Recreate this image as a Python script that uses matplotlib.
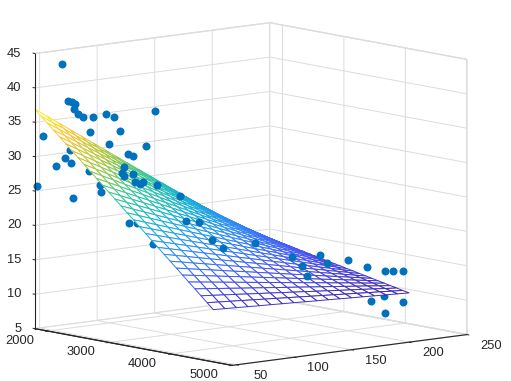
"""
Weight / horsepower / mpg scatter with a fitted mesh on top.
"""
import matplotlib
matplotlib.use('Agg')
import matplotlib.pyplot as plt
import numpy as np
from matplotlib.colors import LinearSegmentedColormap, Normalize
from mpl_toolkits.mplot3d import proj3d

x_ticks = [2000, 3000, 4000, 5000]
y_ticks = [50, 100, 150, 200, 250]
z_ticks = [5, 10, 15, 20, 25, 30, 35, 40, 45]

front_x = [2000, 2051, 2077, 2100, 2095, 2122, 2161, 2237, 2337, 2398, 2712, 2444, 2214, 1855, 2360, 2643, 2505, 2543, 2026, 2069, 1954, 2474, 2462, 2474, 2543, 2620, 2559, 2600, 2727, 1809, 2298, 2086, 2903, 2513, 2949, 3048, 3148, 3232, 3484, 3767, 3982, 3844, 4035, 4196, 4341, 3875, 4477, 4540, 4614, 4372, 4614, 4477]
front_y = [58.3, 61.4, 62.9, 64.3, 64.0, 65.6, 67.9, 72.5, 78.5, 82.2, 101.0, 84.9, 71.2, 49.6, 79.9, 96.9, 88.6, 90.9, 59.9, 62.4, 55.5, 86.8, 86.0, 86.8, 90.9, 95.5, 91.8, 94.3, 101.9, 46.8, 76.2, 63.4, 112.5, 89.1, 115.2, 121.2, 127.2, 132.2, 147.3, 164.3, 177.2, 168.9, 180.4, 190.0, 198.8, 170.8, 206.9, 210.7, 215.1, 200.6, 215.1, 206.9]
front_z = [43.57, 38.21, 38.07, 37.83, 37.06, 36.34, 35.92, 35.95, 36.42, 36.0, 36.99, 33.98, 33.76, 33.05, 32.06, 31.87, 30.66, 30.38, 29.91, 29.2, 28.72, 28.76, 27.88, 27.45, 27.76, 26.67, 26.61, 26.33, 26.27, 25.76, 25.1, 24.11, 24.69, 20.63, 21.07, 20.96, 18.38, 17.29, 18.07, 16.12, 16.53, 14.84, 15.34, 15.84, 14.87, 13.4, 14.34, 14.36, 14.38, 9.94, 9.88, 8.23]

# points that sit under the mesh and show only around its edges
under_x = [2064, 2207, 2296, 2684, 2709, 2574, 2699, 3344, 3406, 4467]
under_y = [62.2, 70.7, 76.1, 99.3, 100.9, 92.7, 100.3, 139, 142.6, 206.3]
under_z = [31.13, 28.03, 26.08, 23.1, 23.79, 20.59, 17.58, 17.62, 15.6, 10.74]

mesh_x = [1795, 1895, 1995, 2095, 2195, 2295, 2395, 2495, 2595, 2695, 2795, 2895, 2995, 3095, 3195, 3295, 3395, 3495, 3595, 3695, 3795, 3895, 3995, 4095, 4195, 4295, 4395, 4495, 4595, 4695]
mesh_y = [46, 56, 66, 76, 86, 96, 106, 116, 126, 136, 146, 156, 166, 176, 186, 196, 206, 216]

# mesh heights
mesh_z = [
    [36.90, 36.06, 35.22, 34.39, 33.55, 32.71, 31.87, 31.03, 30.20, 29.36, 28.52, 27.68, 26.85, 26.01, 25.17, 24.33, 23.49, 22.66, 21.82, 20.98, 20.14, 19.30, 18.47, 17.63, 16.79, 15.95, 15.12, 14.28, 13.44, 12.60],
    [35.71, 34.91, 34.11, 33.31, 32.51, 31.71, 30.91, 30.11, 29.31, 28.51, 27.71, 26.91, 26.11, 25.31, 24.51, 23.72, 22.92, 22.12, 21.32, 20.52, 19.72, 18.92, 18.12, 17.32, 16.52, 15.72, 14.92, 14.12, 13.32, 12.52],
    [34.52, 33.76, 32.99, 32.23, 31.47, 30.71, 29.95, 29.19, 28.43, 27.67, 26.91, 26.15, 25.38, 24.62, 23.86, 23.10, 22.34, 21.58, 20.82, 20.06, 19.30, 18.54, 17.77, 17.01, 16.25, 15.49, 14.73, 13.97, 13.21, 12.45],
    [33.32, 32.60, 31.88, 31.16, 30.43, 29.71, 28.99, 28.27, 27.54, 26.82, 26.10, 25.38, 24.65, 23.93, 23.21, 22.49, 21.76, 21.04, 20.32, 19.60, 18.87, 18.15, 17.43, 16.71, 15.98, 15.26, 14.54, 13.82, 13.09, 12.37],
    [32.13, 31.45, 30.76, 30.08, 29.40, 28.71, 28.03, 27.34, 26.66, 25.98, 25.29, 24.61, 23.92, 23.24, 22.55, 21.87, 21.19, 20.50, 19.82, 19.13, 18.45, 17.77, 17.08, 16.40, 15.71, 15.03, 14.34, 13.66, 12.98, 12.29],
    [30.94, 30.29, 29.65, 29.00, 28.36, 27.71, 27.07, 26.42, 25.78, 25.13, 24.48, 23.84, 23.19, 22.55, 21.90, 21.26, 20.61, 19.96, 19.32, 18.67, 18.03, 17.38, 16.74, 16.09, 15.45, 14.80, 14.15, 13.51, 12.86, 12.22],
    [29.75, 29.14, 28.53, 27.93, 27.32, 26.71, 26.10, 25.50, 24.89, 24.28, 23.68, 23.07, 22.46, 21.86, 21.25, 20.64, 20.03, 19.43, 18.82, 18.21, 17.61, 17.00, 16.39, 15.79, 15.18, 14.57, 13.96, 13.36, 12.75, 12.14],
    [28.56, 27.99, 27.42, 26.85, 26.28, 25.71, 25.14, 24.58, 24.01, 23.44, 22.87, 22.30, 21.73, 21.16, 20.59, 20.03, 19.46, 18.89, 18.32, 17.75, 17.18, 16.61, 16.05, 15.48, 14.91, 14.34, 13.77, 13.20, 12.63, 12.07],
    [27.36, 26.83, 26.30, 25.77, 25.24, 24.71, 24.18, 23.65, 23.12, 22.59, 22.06, 21.53, 21.00, 20.47, 19.94, 19.41, 18.88, 18.35, 17.82, 17.29, 16.76, 16.23, 15.70, 15.17, 14.64, 14.11, 13.58, 13.05, 12.52, 11.99],
    [26.17, 25.68, 25.19, 24.70, 24.21, 23.71, 23.22, 22.73, 22.24, 21.75, 21.25, 20.76, 20.27, 19.78, 19.29, 18.80, 18.30, 17.81, 17.32, 16.83, 16.34, 15.85, 15.35, 14.86, 14.37, 13.88, 13.39, 12.90, 12.40, 11.91],
    [24.98, 24.53, 24.07, 23.62, 23.17, 22.71, 22.26, 21.81, 21.35, 20.90, 20.45, 19.99, 19.54, 19.09, 18.63, 18.18, 17.73, 17.27, 16.82, 16.37, 15.91, 15.46, 15.01, 14.55, 14.10, 13.65, 13.19, 12.74, 12.29, 11.84],
    [23.79, 23.37, 22.96, 22.54, 22.13, 21.71, 21.30, 20.88, 20.47, 20.05, 19.64, 19.23, 18.81, 18.40, 17.98, 17.57, 17.15, 16.74, 16.32, 15.91, 15.49, 15.08, 14.66, 14.25, 13.83, 13.42, 13.00, 12.59, 12.17, 11.76],
    [22.60, 22.22, 21.84, 21.47, 21.09, 20.71, 20.34, 19.96, 19.59, 19.21, 18.83, 18.46, 18.08, 17.70, 17.33, 16.95, 16.57, 16.20, 15.82, 15.45, 15.07, 14.69, 14.32, 13.94, 13.56, 13.19, 12.81, 12.43, 12.06, 11.68],
    [21.40, 21.07, 20.73, 20.39, 20.05, 19.71, 19.38, 19.04, 18.70, 18.36, 18.02, 17.69, 17.35, 17.01, 16.67, 16.34, 16.00, 15.66, 15.32, 14.98, 14.65, 14.31, 13.97, 13.63, 13.29, 12.96, 12.62, 12.28, 11.94, 11.61],
    [20.21, 19.91, 19.61, 19.31, 19.01, 18.72, 18.42, 18.12, 17.82, 17.52, 17.22, 16.92, 16.62, 16.32, 16.02, 15.72, 15.42, 15.12, 14.82, 14.52, 14.22, 13.92, 13.63, 13.33, 13.03, 12.73, 12.43, 12.13, 11.83, 11.53],
    [19.02, 18.76, 18.50, 18.24, 17.98, 17.72, 17.45, 17.19, 16.93, 16.67, 16.41, 16.15, 15.89, 15.63, 15.37, 15.11, 14.85, 14.58, 14.32, 14.06, 13.80, 13.54, 13.28, 13.02, 12.76, 12.50, 12.24, 11.98, 11.72, 11.45],
    [17.83, 17.61, 17.38, 17.16, 16.94, 16.72, 16.49, 16.27, 16.05, 15.83, 15.60, 15.38, 15.16, 14.94, 14.71, 14.49, 14.27, 14.05, 13.82, 13.60, 13.38, 13.16, 12.93, 12.71, 12.49, 12.27, 12.04, 11.82, 11.60, 11.38],
    [16.64, 16.45, 16.27, 16.08, 15.90, 15.72, 15.53, 15.35, 15.16, 14.98, 14.80, 14.61, 14.43, 14.24, 14.06, 13.88, 13.69, 13.51, 13.33, 13.14, 12.96, 12.77, 12.59, 12.41, 12.22, 12.04, 11.85, 11.67, 11.48, 11.30],
]

parula_colors = ['#3E26A8', '#4852F4', '#2D87F7', '#12B1D6', '#37C897', '#ABC739', '#FEC338', '#F9FB15']

plt.rcParams['font.family'] = ['Liberation Sans', 'DejaVu Sans']
plt.rcParams['font.size'] = 9.3

DARK = '#262626'
GRID = '#dcdcdc'

fig = plt.figure(figsize=(5.11, 3.81), dpi=100)
ax = fig.add_axes([-0.019, -0.0228, 1, 1], projection='3d', proj_type='ortho')
ax.view_init(elev=9, azim=-40)
ax.set_box_aspect((307, 307, 279), zoom=1.313)
ax.computed_zorder = False
ax.patch.set_alpha(0)

ax.set_xlim(1795, 5000)
ax.set_ylim(46, 250)
ax.set_zlim(5, 45)
ax.set_xticks(x_ticks)
ax.set_yticks(y_ticks)
ax.set_zticks(z_ticks)
ax.set_xticklabels([])
ax.set_yticklabels([])
ax.set_zticklabels([])

for axis in [ax.xaxis, ax.yaxis, ax.zaxis]:
    axis.set_pane_color((1, 1, 1, 1))
    axis.pane.set_edgecolor(GRID)
    axis.line.set_color(DARK)
    axis.line.set_linewidth(0.8)
    axis._axinfo['grid']['color'] = GRID
    axis._axinfo['grid']['linewidth'] = 0.7
    axis._axinfo['tick']['inward_factor'] = 0.12
    axis._axinfo['tick']['outward_factor'] = 0.0
    axis._axinfo['tick']['linewidth'] = {True: 0.7, False: 0.7}
ax.zaxis._axinfo['juggled'] = (1, 0, 2)
ax.zaxis._axinfo['tick']['inward_factor'] = 0.0
ax.zaxis._axinfo['tick']['outward_factor'] = 0.12
ax.tick_params(colors=DARK)

ax.scatter(under_x, under_y, under_z, s=33, c='#0072BD', linewidths=0, depthshade=False, zorder=1, clip_on=False)

# white faces hide what is behind, edges take their colour from the height
Z = np.array(mesh_z)
X, Y = np.meshgrid(mesh_x, mesh_y)
cmap = LinearSegmentedColormap.from_list('parula_like', parula_colors)
norm = Normalize(Z.min(), Z.max())
quad_z = (Z[:-1, :-1] + Z[1:, :-1] + Z[:-1, 1:] + Z[1:, 1:]) / 4
surf = ax.plot_surface(X, Y, Z, rstride=1, cstride=1, color='white', shade=False,
                       linewidth=0.7, zorder=2, clip_on=False)
surf.set_edgecolors(cmap(norm(quad_z)).reshape(-1, 4))

ax.scatter(front_x, front_y, front_z, s=33, c='#0072BD', linewidths=0, depthshade=False, zorder=3, clip_on=False)

# z axis line on the left corner
ax.plot([1795, 1795], [46, 46], [5, 45], color=DARK, linewidth=0.8, zorder=4, clip_on=False)


def tick_label(x, y, z, text, dx, dy, ha='center'):
    px, py, _ = proj3d.proj_transform(x, y, z, ax.get_proj())
    ax.annotate(text, (px, py), xycoords='data', xytext=(dx, dy), textcoords='offset pixels',
                ha=ha, va='center', color=DARK, annotation_clip=False)


for t in x_ticks:
    tick_label(t, 46, 5, str(t), -28, -10)
for t in y_ticks:
    tick_label(5000, t, 5, str(t), 24, -11)
for t in z_ticks:
    tick_label(1795, 46, t, str(t), -13.5, 0, ha='right')

fig.savefig('out.png', dpi=100)
